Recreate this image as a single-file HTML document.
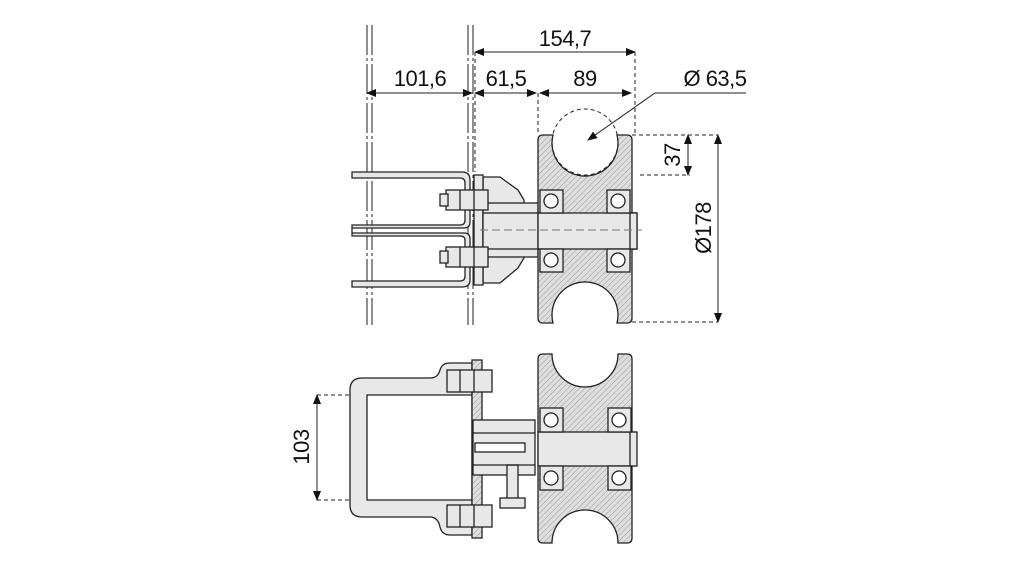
<!DOCTYPE html>
<html><head><meta charset="utf-8"><style>
html,body{margin:0;padding:0;background:#fff;}
svg{display:block;}
text{font-family:"Liberation Sans",sans-serif;font-size:22px;fill:#111;letter-spacing:-0.5px;}
</style></head><body>
<svg width="1022" height="568" viewBox="0 0 1022 568" xmlns="http://www.w3.org/2000/svg">
<defs>
<pattern id="h" width="4" height="4" patternUnits="userSpaceOnUse" patternTransform="rotate(45)">
<rect width="4" height="4" fill="#dedede"/><line x1="0" y1="0" x2="0" y2="4" stroke="#9a9a9a" stroke-width="1"/>
</pattern>
<marker id="a" markerWidth="10" markerHeight="8" refX="9" refY="4" orient="auto-start-reverse" markerUnits="userSpaceOnUse">
<path d="M0,0 L10,4 L0,8 Z" fill="#111"/></marker>
</defs>
<g stroke="#222" stroke-width="1" fill="none">
<g stroke-dasharray="30,3,3,3">
<line x1="367" y1="25" x2="367" y2="325"/><line x1="372" y1="25" x2="372" y2="325"/>
<line x1="468" y1="25" x2="468" y2="325"/><line x1="473" y1="25" x2="473" y2="325"/>
</g>
<g stroke-dasharray="4,3">
<line x1="475" y1="52" x2="475" y2="172"/>
<line x1="635" y1="52" x2="635" y2="135"/>
<line x1="538" y1="93" x2="538" y2="135"/>
<line x1="632" y1="135" x2="718" y2="135"/>
<line x1="640" y1="175" x2="690" y2="175"/>
<line x1="632" y1="322" x2="718" y2="322"/>
<line x1="317" y1="395" x2="367" y2="395"/>
<line x1="317" y1="500" x2="367" y2="500"/>
<circle cx="585" cy="142" r="33"/>
</g>
<line x1="475" y1="52" x2="635" y2="52" marker-start="url(#a)" marker-end="url(#a)"/>
<line x1="367" y1="93" x2="472" y2="93" marker-start="url(#a)" marker-end="url(#a)"/>
<line x1="475" y1="93" x2="536" y2="93" marker-start="url(#a)" marker-end="url(#a)"/>
<line x1="540" y1="93" x2="631" y2="93" marker-start="url(#a)" marker-end="url(#a)"/>
<polyline points="746,93 655,93 588,140" marker-end="url(#a)"/>
<line x1="688" y1="135" x2="688" y2="175" marker-start="url(#a)" marker-end="url(#a)"/>
<line x1="718" y1="135" x2="718" y2="322" marker-start="url(#a)" marker-end="url(#a)"/>
<line x1="317" y1="395" x2="317" y2="500" marker-start="url(#a)" marker-end="url(#a)"/>
</g>
<text x="565" y="46" text-anchor="middle">154,7</text>
<text x="420" y="86" text-anchor="middle">101,6</text>
<text x="506" y="86" text-anchor="middle">61,5</text>
<text x="585" y="86" text-anchor="middle">89</text>
<text x="715" y="86" text-anchor="middle">Ø 63,5</text>
<text transform="translate(680,155) rotate(-90)" text-anchor="middle">37</text>
<text transform="translate(711,228) rotate(-90)" text-anchor="middle">Ø178</text>
<text transform="translate(309,447) rotate(-90)" text-anchor="middle">103</text>

<g stroke="#222" stroke-width="1.3">
<g fill="#e8e8e8">
<path d="M352,172 L462,172 Q470,172 470,180 L470,222 Q470,228 464,228 L352,228 L352,233 L464,233 Q470,233 470,239 L470,280 Q470,287 462,287 L352,287 L352,281 L460,281 Q465,281 465,276 L465,240 Q465,236 460,236 L352,236 L352,225 L460,225 Q465,225 465,220 L465,183 Q465,178 460,178 L352,178 Z"/>
<path d="M483,177 L500,177 L518,190 L524,200 L524,258 L518,268 L500,283 L483,283 Z"/>
<rect x="474" y="175" width="9" height="110"/>
<rect x="483" y="203" width="55" height="54"/>
<rect x="483" y="213" width="152" height="36"/>
<rect x="630" y="213" width="7" height="36"/>
<rect x="446" y="190" width="42" height="20"/>
<rect x="446" y="247" width="42" height="20"/>
<rect x="440" y="194" width="8" height="12"/>
<rect x="440" y="251" width="8" height="12"/>
</g>
<line x1="460" y1="190" x2="460" y2="210"/><line x1="474" y1="190" x2="474" y2="210"/>
<line x1="460" y1="247" x2="460" y2="267"/><line x1="474" y1="247" x2="474" y2="267"/>
<path fill="url(#h)" d="M538,140 Q538,135 543,135 L553,135 A33,33 0 1 0 617,135 L627,135 Q632,135 632,140 L632,318 Q632,323 627,323 L617,323 A33,33 0 1 0 553,323 L543,323 Q538,323 538,318 Z"/>
<g fill="#e8e8e8">
<rect x="538" y="213" width="97" height="36"/>
<rect x="630" y="213" width="7" height="36"/>
<rect x="540" y="190" width="23" height="23"/><rect x="607" y="190" width="23" height="23"/>
<rect x="540" y="249" width="23" height="23"/><rect x="607" y="249" width="23" height="23"/>
</g>
<g fill="#fff"><circle cx="551" cy="201" r="7"/><circle cx="618" cy="201" r="7"/><circle cx="551" cy="260" r="7"/><circle cx="618" cy="260" r="7"/></g>
</g>
<line x1="480" y1="230" x2="642" y2="230" stroke="#777" stroke-dasharray="8,4"/>

<g stroke="#222" stroke-width="1.3">
<path fill="#e8e8e8" d="M362,378 L430,378 Q438,378 440,370 Q442,363 450,363 L472,363 L472,535 L450,535 Q442,535 440,527 Q438,517 430,517 L362,517 Q350,517 350,505 L350,390 Q350,378 362,378 Z M367,395 L367,500 L472,500 L472,395 Z" fill-rule="evenodd"/>
<rect x="472" y="360" width="10" height="178" fill="url(#h)"/>
<g fill="#e8e8e8">
<rect x="447" y="370" width="45" height="22"/><rect x="447" y="505" width="45" height="22"/>
<rect x="473" y="420" width="62" height="55"/>
<rect x="507" y="465" width="11" height="35"/>
<rect x="500" y="498" width="25" height="10"/>
</g>
<line x1="460" y1="370" x2="460" y2="392"/><line x1="474" y1="370" x2="474" y2="392"/>
<line x1="460" y1="505" x2="460" y2="527"/><line x1="474" y1="505" x2="474" y2="527"/>
<rect x="475" y="443" width="50" height="9" fill="#fff"/>
<line x1="473" y1="433" x2="535" y2="433"/><line x1="473" y1="465" x2="535" y2="465"/>
<path fill="url(#h)" d="M538,359 Q538,354 543,354 L552,354 A33,33 0 1 0 618,354 L627,354 Q632,354 632,359 L632,538 Q632,543 627,543 L618,543 A33,33 0 1 0 552,543 L543,543 Q538,543 538,538 Z"/>
<g fill="#e8e8e8">
<rect x="538" y="432" width="97" height="34"/>
<rect x="630" y="432" width="7" height="34"/>
<rect x="540" y="408" width="23" height="24"/><rect x="608" y="408" width="23" height="24"/>
<rect x="540" y="466" width="23" height="24"/><rect x="608" y="466" width="23" height="24"/>
</g>
<g fill="#fff"><circle cx="551" cy="420" r="7"/><circle cx="619" cy="420" r="7"/><circle cx="551" cy="478" r="7"/><circle cx="619" cy="478" r="7"/></g>
</g>
</svg>
</body></html>
